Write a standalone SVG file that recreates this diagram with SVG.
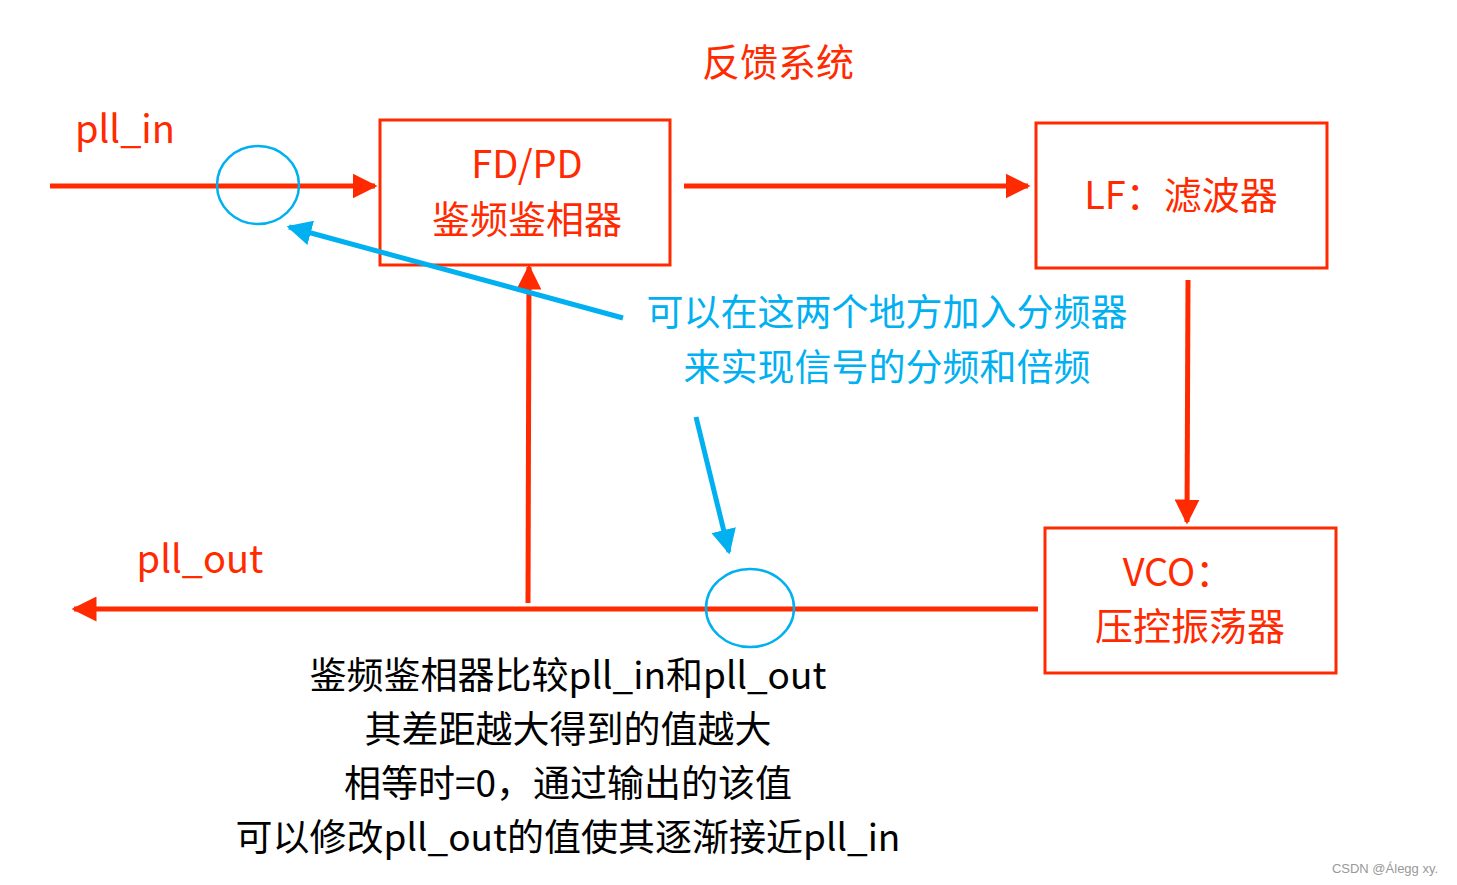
<svg xmlns="http://www.w3.org/2000/svg" width="1457" height="885" viewBox="0 0 1457 885">
<style>
.box{fill:#fff;stroke:#ff2a00;stroke-width:3}
.rt{fill:#ff2a00;font-family:"Noto Sans CJK SC",sans-serif;font-size:38px;text-anchor:middle}
.bt{fill:#00b0f0;font-family:"Noto Sans CJK SC",sans-serif;font-size:37px;text-anchor:middle}
.kt{fill:#000;font-family:"Noto Sans CJK SC",sans-serif;font-size:37px;text-anchor:middle}
.rl{stroke:#ff2a00;stroke-width:5;fill:none}
.bl{stroke:#00b0f0;stroke-width:5;fill:none}
.circ{fill:none;stroke:#00b0f0;stroke-width:2.5}
</style>
<defs>
<marker id="ra" viewBox="0 0 10 10" refX="9" refY="5" markerWidth="5" markerHeight="5" orient="auto" markerUnits="strokeWidth"><path d="M0,0L10,5L0,10z" fill="#ff2a00"/></marker>
<marker id="ba" viewBox="0 0 10 10" refX="9" refY="5" markerWidth="5" markerHeight="5" orient="auto" markerUnits="strokeWidth"><path d="M0,0L10,5L0,10z" fill="#00b0f0"/></marker>
</defs>
<rect width="1457" height="885" fill="#fff"/>
<text class="rt" x="778" y="76">反馈系统</text>
<text class="rt" x="125" y="143">pll_in</text>
<text class="rt" x="200" y="573">pll_out</text>
<g id="fdpd"><rect class="box" x="380" y="120" width="290" height="145"/><text class="rt" x="527" y="178">FD/PD</text><text class="rt" x="527" y="233">鉴频鉴相器</text></g>
<g id="lf"><rect class="box" x="1036" y="123" width="291" height="145"/><text class="rt" x="1181" y="209">LF：滤波器</text></g>
<g id="vco"><rect class="box" x="1045" y="528" width="291" height="145"/><text class="rt" x="1178" y="586">VCO：</text><text class="rt" x="1190" y="640">压控振荡器</text></g>
<g id="connectors">
<line class="rl" x1="50" y1="186" x2="375" y2="186" marker-end="url(#ra)"/>
<line class="rl" x1="684" y1="186" x2="1028" y2="186" marker-end="url(#ra)"/>
<line class="rl" x1="1188" y1="280" x2="1187" y2="522" marker-end="url(#ra)"/>
<line class="rl" x1="1038" y1="609" x2="74" y2="609" marker-end="url(#ra)"/>
<line class="rl" x1="528" y1="603" x2="529" y2="267" marker-end="url(#ra)"/>
<line class="bl" x1="623" y1="318" x2="289" y2="227" marker-end="url(#ba)"/>
<line class="bl" x1="696" y1="417" x2="729" y2="552" marker-end="url(#ba)"/>
<ellipse class="circ" cx="258" cy="185" rx="41" ry="39"/>
<ellipse class="circ" cx="750" cy="608" rx="44" ry="39"/>
</g>
<text class="bt" x="887" y="326">可以在这两个地方加入分频器</text>
<text class="bt" x="887" y="381">来实现信号的分频和倍频</text>
<text class="kt" x="568" y="689">鉴频鉴相器比较pll_in和pll_out</text>
<text class="kt" x="568" y="743">其差距越大得到的值越大</text>
<text class="kt" x="568" y="797">相等时=0，通过输出的该值</text>
<text class="kt" x="568" y="851">可以修改pll_out的值使其逐渐接近pll_in</text>
<text x="1385" y="873" font-family="Liberation Sans,sans-serif" font-size="13" fill="#999" text-anchor="middle">CSDN @Álegg xy.</text>
</svg>
